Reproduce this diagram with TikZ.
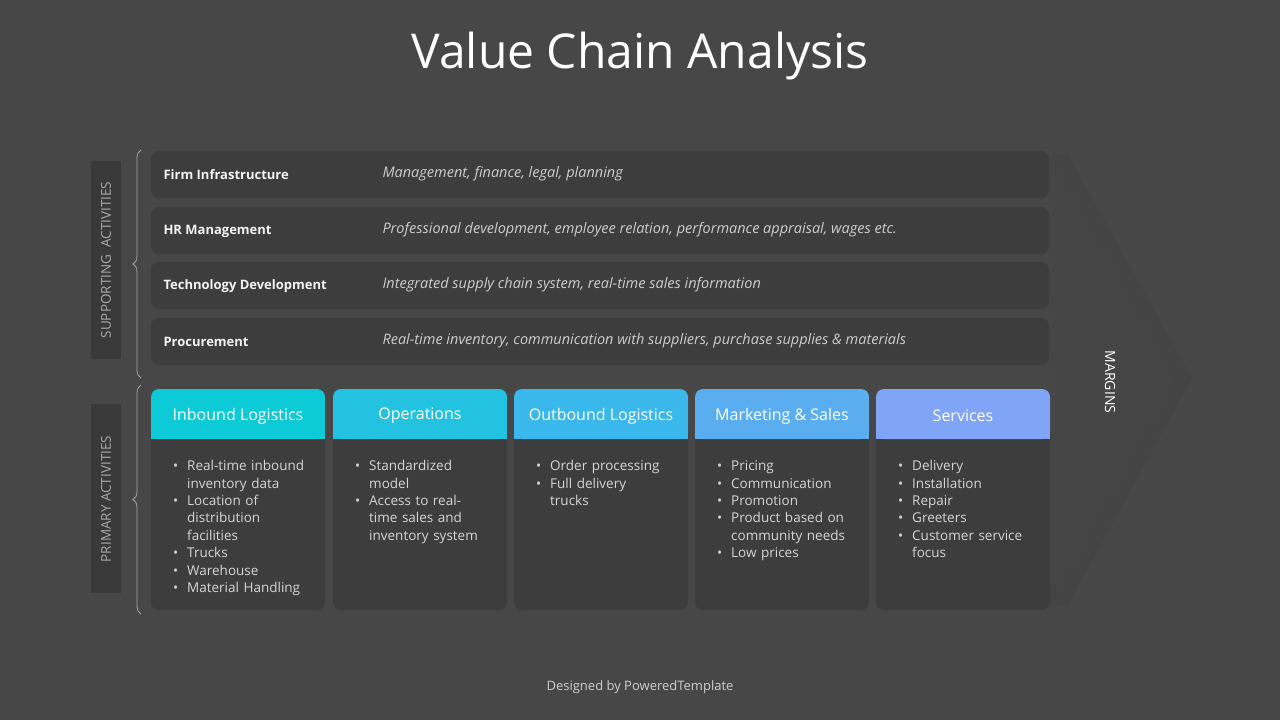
\documentclass[tikz,border=0pt]{standalone}
\usepackage{fontspec}
\setmainfont{Open Sans}
\usepackage{enumitem}
\usetikzlibrary{decorations.pathreplacing}
\definecolor{bg}{HTML}{474747}
\definecolor{rowc}{HTML}{3D3D3D}
\definecolor{txt}{HTML}{F2F2F2}
\definecolor{c1}{HTML}{0CCAD6}
\definecolor{c2}{HTML}{22C2E0}
\definecolor{c3}{HTML}{3AB8EC}
\definecolor{c4}{HTML}{5AAEF0}
\definecolor{c5}{HTML}{80A4F6}
\tikzset{
  rowbox/.style={fill=rowc,rounded corners=8pt},
  rowlab/.style={anchor=west,text=txt,font=\fontsize{13}{15}\selectfont\bfseries},
  rowdesc/.style={anchor=west,text=txt!85!black,font=\fontsize{14.5}{16}\selectfont\itshape},
  head/.style={text=white,font=\fontsize{16}{18}\selectfont},
  bullets/.style={anchor=north west,text=txt!88!black,text width=150pt,align=left,inner sep=0pt,font=\fontsize{13.5}{17.4}\selectfont},
  sidebox/.style={fill=bg!80!black},
  sidelab/.style={text=txt!70!black,font=\fontsize{13.5}{15}\selectfont,rotate=90},
  brace/.style={draw=gray!70,line width=0.8pt,decorate,decoration={brace,amplitude=8pt}}
}
\setlist[itemize]{label=\textbullet,leftmargin=20pt,labelsep=9pt,itemsep=0pt,topsep=0pt,parsep=0pt,partopsep=0pt}
\begin{document}
\begin{tikzpicture}[x=1pt,y=-1pt]
\fill[bg] (0,0) rectangle (1280,720);
\useasboundingbox (0,0) rectangle (1280,720);
% chevron
\fill[bg!96!black] (1050,155) -- (1068,155) -- (1192,378) -- (1068,605) -- (1050,605) -- cycle;
\fill[bg!98!black] (1050,175) -- (1060,175) -- (1175,378) -- (1060,585) -- (1050,585) -- cycle;
\node[text=white,font=\fontsize{48}{54}\selectfont] (title) at (640,56) {Value Chain Analysis};
% supporting rows
\foreach \y/\n/\l/\d in {151/r1/Firm Infrastructure/{Management, finance, legal, planning},
  207/r2/HR Management/{Professional development, employee relation, performance appraisal, wages etc.},
  262/r3/Technology Development/{Integrated supply chain system, real-time sales information},
  318/r4/Procurement/{Real-time inventory, communication with suppliers, purchase supplies \& materials}}{
  \fill[rowbox] (151,\y) rectangle (1049,\y+47);
  \node[rowlab] (\n l) at (160,\y+24) {\l};
  \node[rowdesc] (\n d) at (379,\y+23) {\d};
}
% primary
\foreach \x/\c/\n/\h in {151/c1/p1/Inbound Logistics,333/c2/p2/Operations,514/c3/p3/Outbound Logistics,695/c4/p4/Marketing \& Sales,876/c5/p5/Services}{
  \fill[rowbox] (\x,389) rectangle (\x+174,610);
  \fill[\c,rounded corners=8pt] (\x,389) rectangle (\x+174,439);
  \fill[\c] (\x,420) rectangle (\x+174,439);
  \node[head] (\n h) at (\x+87,416) {\h};
}
\node[bullets] (b1) at (167,453) {\begin{itemize}\item Real-time inbound inventory data\item Location of\\distribution\\facilities\item Trucks\item Warehouse\item Material Handling\end{itemize}};
\node[bullets] (b2) at (349,453) {\begin{itemize}\item Standardized\\model\item Access to real-\\time sales and inventory system\end{itemize}};
\node[bullets] (b3) at (530,453) {\begin{itemize}\item Order processing\item Full delivery\\trucks\end{itemize}};
\node[bullets] (b4) at (711,453) {\begin{itemize}\item Pricing\item Communication\item Promotion\item Product based on community needs\item Low prices\end{itemize}};
\node[bullets] (b5) at (892,453) {\begin{itemize}\item Delivery\item Installation\item Repair\item Greeters\item Customer service\\focus\end{itemize}};
% side labels
\fill[sidebox] (91,161) rectangle (121,359);
\node[sidelab] (sup) at (106,260) {SUPPORTING\ \ ACTIVITIES};
\fill[sidebox] (91,404) rectangle (121,593);
\node[sidelab] (pri) at (106,499) {PRIMARY ACTIVITIES};
\draw[brace] (141,378) -- (141,150);
\draw[brace] (141,614) -- (141,385);
\node[text=white,font=\fontsize{14}{16}\selectfont,rotate=-90] (marg) at (1110,382) {MARGINS};
\node[text=txt!85!black,font=\fontsize{13}{15}\selectfont] (foot) at (640,687) {Designed by PoweredTemplate};
\end{tikzpicture}
\end{document}
